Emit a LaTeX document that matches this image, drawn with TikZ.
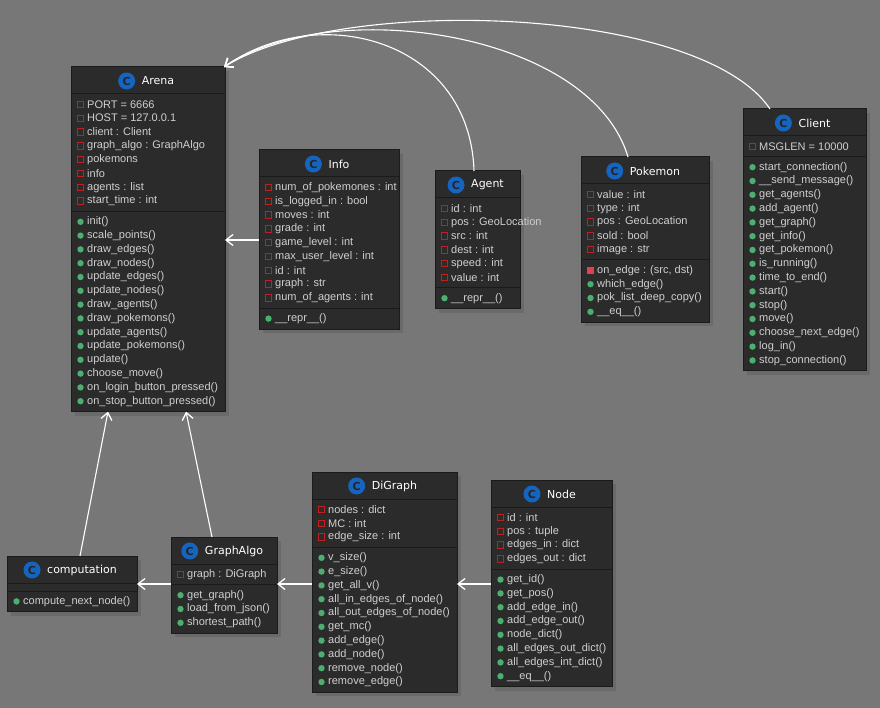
\documentclass[tikz,border=0pt]{standalone}
\usepackage{fontspec}
\setmainfont{Liberation Sans}
\newfontfamily\titlefont{DejaVu Sans}
\usetikzlibrary{arrows.meta}
\definecolor{bgc}{HTML}{777777}
\definecolor{boxc}{HTML}{2B2B2B}
\definecolor{bordc}{HTML}{1B1B1B}
\definecolor{shc}{HTML}{6A6A6A}
\definecolor{memc}{HTML}{CFCFCF}
\definecolor{iconblue}{HTML}{1565C0}
\definecolor{privc}{HTML}{C02020}
\definecolor{pubc}{HTML}{4CAF70}
\definecolor{fillred}{HTML}{E04050}
\tikzset{
  classbox/.style={draw=bordc, fill=boxc, line width=1pt, inner sep=0pt, outer sep=0pt},
  sepline/.style={draw=bordc, line width=1pt},
  mem/.style={anchor=west, inner sep=0pt, text=memc, font=\fontsize{11}{12}\selectfont},
  ttl/.style={inner sep=0pt, text=white, font=\titlefont\fontsize{11}{13}\selectfont},
  conn/.style={draw=white, line width=1.1pt, -{Straight Barb[length=7pt,width=11pt,line width=1.3pt]}},
}
\newcommand\icp[1]{\draw[privc, line width=0.8pt, shift={#1}] (-3.2,-3.2) rectangle (3.2,3.2);}
\newcommand\icf[1]{\fill[fillred, shift={#1}] (-3.7,-3.7) rectangle (3.7,3.7);}
\newcommand\icm[1]{\fill[pubc, shift={#1}] (0,0) circle (3.2);}
% id, x, y, w, title, nA, attrs, nM, methods
\newcommand\umlclass[9]{%
  \pgfmathsetmacro\hA{#6==0?8:#6*13.8+7}%
  \pgfmathsetmacro\hM{#8*13.8+7}%
  \pgfmathsetmacro\hT{27+\hA+\hM}%
  \fill[shc] (#2+4,#3+4) rectangle ++(#4,\hT);
  \node[classbox, minimum width=#4pt, minimum height=\hT pt, anchor=north west] (#1) at (#2,#3) {};
  \draw[sepline] (#2,#3+27) -- ++(#4,0);
  \draw[sepline] (#2,#3+27+\hA) -- ++(#4,0);
  \node[ttl] (#1t) at (#2+#4/2+10,#3+14) {#5};
  \fill[iconblue] ([xshift=-15pt]#1t.west) circle (8.5);
  \node[inner sep=0pt, font=\titlefont\bfseries\fontsize{11}{13}\selectfont, text=black!85] at ([xshift=-15pt]#1t.west) {C};
  \ifnum#6>0
  \foreach \k/\s [count=\i] in {#7} {
    \pgfmathsetmacro\yy{#3+27+3.5+(\i-0.5)*13.8}
    \node[mem] at (#2+16,\yy) {\s};
    \csname ic\k\endcsname{(#2+9.5,\yy)}
  }
  \fi
  \foreach \k/\s [count=\i] in {#9} {
    \pgfmathsetmacro\yy{#3+27+\hA+3.5+(\i-0.5)*13.8}
    \node[mem] at (#2+16,\yy) {\s};
    \csname ic\k\endcsname{(#2+9.5,\yy)}
  }
}
\begin{document}
\begin{tikzpicture}[x=1pt,y=-1pt]
\fill[bgc] (0,0) rectangle (880,708);
\useasboundingbox (0,0) rectangle (880,708);

\umlclass{arena}{71}{67}{154}{Arena}{8}{p/PORT = 6666, p/HOST = 127.0.0.1, p/client : Client, p/graph\_algo : GraphAlgo, p/pokemons, p/info, p/agents : list, p/start\_time : int}{14}{m/init(), m/scale\_points(), m/draw\_edges(), m/draw\_nodes(), m/update\_edges(), m/update\_nodes(), m/draw\_agents(), m/draw\_pokemons(), m/update\_agents(), m/update\_pokemons(), m/update(), m/choose\_move(), m/on\_login\_button\_pressed(), m/on\_stop\_button\_pressed()}

\umlclass{info}{259}{150}{140}{Info}{9}{p/num\_of\_pokemones : int, p/is\_logged\_in : bool, p/moves : int, p/grade : int, p/game\_level : int, p/max\_user\_level : int, p/id : int, p/graph : str, p/num\_of\_agents : int}{1}{m/\_\_repr\_\_()}

\umlclass{agent}{435}{171}{85}{Agent}{6}{p/id : int, p/pos : GeoLocation, p/src : int, p/dest : int, p/speed : int, p/value : int}{1}{m/\_\_repr\_\_()}

\umlclass{pokemon}{581}{157}{128}{Pokemon}{5}{p/value : int, p/type : int, p/pos : GeoLocation, p/sold : bool, p/image : str}{4}{f/{on\_edge : (src, dst)}, m/which\_edge(), m/pok\_list\_deep\_copy(), m/\_\_eq\_\_()}

\umlclass{client}{743}{109}{123}{Client}{1}{p/MSGLEN = 10000}{15}{m/start\_connection(), m/\_\_send\_message(), m/get\_agents(), m/add\_agent(), m/get\_graph(), m/get\_info(), m/get\_pokemon(), m/is\_running(), m/time\_to\_end(), m/start(), m/stop(), m/move(), m/choose\_next\_edge(), m/log\_in(), m/stop\_connection()}

\umlclass{computation}{7}{556}{130}{computation}{0}{}{1}{m/compute\_next\_node()}

\umlclass{graphalgo}{171}{537}{106}{GraphAlgo}{1}{p/graph : DiGraph}{3}{m/get\_graph(), m/load\_from\_json(), m/shortest\_path()}

\umlclass{digraph}{312}{472}{145}{DiGraph}{3}{p/nodes : dict, p/MC : int, p/edge\_size : int}{10}{m/v\_size(), m/e\_size(), m/get\_all\_v(), m/all\_in\_edges\_of\_node(), m/all\_out\_edges\_of\_node(), m/get\_mc(), m/add\_edge(), m/add\_node(), m/remove\_node(), m/remove\_edge()}

\umlclass{node}{491}{480}{121}{Node}{4}{p/id : int, p/pos : tuple, p/edges\_in : dict, p/edges\_out : dict}{8}{m/get\_id(), m/get\_pos(), m/add\_edge\_in(), m/add\_edge\_out(), m/node\_dict(), m/all\_edges\_out\_dict(), m/all\_edges\_int\_dict(), m/\_\_eq\_\_()}

\coordinate (arenaTop) at ([xshift=-1pt]arena.north east);
\draw[conn] (info.west |- 0,240) -- (arena.east |- 0,240);
\draw[conn] ([xshift=-46pt]agent.north east) .. controls (470,40) and (320,0) .. (arenaTop);
\draw[conn] ([xshift=-81pt]pokemon.north east) .. controls (590,30) and (330,-5) .. (arenaTop);
\draw[conn] ([xshift=-96pt]client.north east) .. controls (700,5) and (340,-5) .. (arenaTop);
\draw[conn] ([xshift=73pt]computation.north west) -- ([xshift=37pt]arena.south west);
\draw[conn] ([xshift=41pt]graphalgo.north west) -- ([xshift=115pt]arena.south west);
\draw[conn] (graphalgo.west |- 0,584) -- (computation.east |- 0,584);
\draw[conn] (digraph.west |- 0,584) -- (graphalgo.east |- 0,584);
\draw[conn] (node.west |- 0,584) -- (digraph.east |- 0,584);
\end{tikzpicture}
\end{document}
